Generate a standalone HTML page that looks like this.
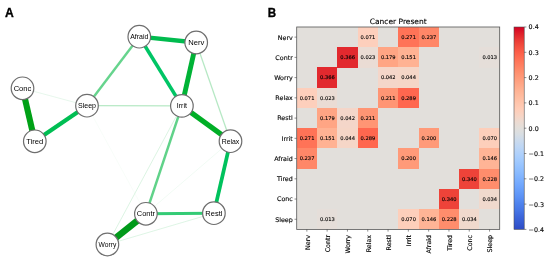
<!DOCTYPE html>
<html><head><meta charset="utf-8"><title>Figure</title>
<style>
html,body{margin:0;padding:0;background:#fff;}
body{width:550px;height:262px;overflow:hidden;}
svg{display:block;}
.dj{font-family:"DejaVu Sans","Liberation Sans",sans-serif;stroke:#000;stroke-width:0.12px;}
.lb{font-family:"Liberation Sans",Arial,sans-serif;}
</style></head><body>
<svg width="550" height="262" viewBox="0 0 550 262">
<rect x="0" y="0" width="550" height="262" fill="#ffffff"/>
<text class="lb" transform="translate(5.1,16.95) scale(0.9,1)" font-size="13.5" font-weight="bold" fill="#000" stroke="#000" stroke-width="0.35">A</text>
<text class="lb" transform="translate(267.8,16.95) scale(0.86,1)" font-size="13.5" font-weight="bold" fill="#000" stroke="#000" stroke-width="0.35">B</text>
<g stroke-linecap="butt">
<line x1="145.9" y1="213.8" x2="87.0" y2="105.7" stroke="#f0faf2" stroke-width="0.45"/>
<line x1="145.9" y1="213.8" x2="230.5" y2="141.2" stroke="#e5f7ea" stroke-width="0.55"/>
<line x1="22.5" y1="88.3" x2="87.0" y2="105.7" stroke="#daf3e1" stroke-width="0.65"/>
<line x1="107.4" y1="244.5" x2="213.9" y2="213.2" stroke="#d2f1db" stroke-width="0.73"/>
<line x1="107.4" y1="244.5" x2="181.9" y2="105.9" stroke="#d0f0d9" stroke-width="0.75"/>
<line x1="181.9" y1="105.9" x2="87.0" y2="105.7" stroke="#b7e9c5" stroke-width="1.25"/>
<line x1="196.2" y1="42.5" x2="230.5" y2="141.2" stroke="#b6e8c4" stroke-width="1.27"/>
<line x1="139.3" y1="36.7" x2="87.0" y2="105.7" stroke="#66d48d" stroke-width="2.42"/>
<line x1="145.9" y1="213.8" x2="181.9" y2="105.9" stroke="#60d289" stroke-width="2.50"/>
<line x1="145.9" y1="213.8" x2="213.9" y2="213.2" stroke="#34cb75" stroke-width="3.09"/>
<line x1="181.9" y1="105.9" x2="139.3" y2="36.7" stroke="#00c565" stroke-width="3.53"/>
<line x1="230.5" y1="141.2" x2="213.9" y2="213.2" stroke="#00c25d" stroke-width="3.76"/>
<line x1="34.8" y1="141.3" x2="87.0" y2="105.7" stroke="#00be53" stroke-width="4.11"/>
<line x1="196.2" y1="42.5" x2="139.3" y2="36.7" stroke="#00bb4e" stroke-width="4.30"/>
<line x1="196.2" y1="42.5" x2="181.9" y2="105.9" stroke="#00b336" stroke-width="4.89"/>
<line x1="230.5" y1="141.2" x2="181.9" y2="105.9" stroke="#00ae26" stroke-width="5.21"/>
<line x1="34.8" y1="141.3" x2="22.5" y2="88.3" stroke="#00a116" stroke-width="6.10"/>
<line x1="145.9" y1="213.8" x2="107.4" y2="244.5" stroke="#009a1a" stroke-width="6.60"/>
</g>
<circle cx="139.3" cy="36.7" r="11.3" fill="#fff" stroke="#6e6e6e" stroke-width="1.2"/>
<text class="lb" x="139.3" y="39.2" font-size="6.95" text-anchor="middle" fill="#000">Afraid</text>
<circle cx="196.2" cy="42.5" r="11.3" fill="#fff" stroke="#6e6e6e" stroke-width="1.2"/>
<text class="lb" x="196.2" y="45.2" font-size="7.60" text-anchor="middle" fill="#000">Nerv</text>
<circle cx="22.5" cy="88.3" r="11.3" fill="#fff" stroke="#6e6e6e" stroke-width="1.2"/>
<text class="lb" x="22.5" y="91.0" font-size="7.60" text-anchor="middle" fill="#000">Conc</text>
<circle cx="87.0" cy="105.7" r="11.3" fill="#fff" stroke="#6e6e6e" stroke-width="1.2"/>
<text class="lb" x="87.0" y="108.2" font-size="7.05" text-anchor="middle" fill="#000">Sleep</text>
<circle cx="181.9" cy="105.9" r="11.3" fill="#fff" stroke="#6e6e6e" stroke-width="1.2"/>
<text class="lb" x="181.9" y="108.4" font-size="7.00" text-anchor="middle" fill="#000">Irrit</text>
<circle cx="34.8" cy="141.3" r="11.3" fill="#fff" stroke="#6e6e6e" stroke-width="1.2"/>
<text class="lb" x="34.8" y="144.0" font-size="7.60" text-anchor="middle" fill="#000">Tired</text>
<circle cx="230.5" cy="141.2" r="11.3" fill="#fff" stroke="#6e6e6e" stroke-width="1.2"/>
<text class="lb" x="230.5" y="143.6" font-size="6.90" text-anchor="middle" fill="#000">Relax</text>
<circle cx="145.9" cy="213.8" r="11.3" fill="#fff" stroke="#6e6e6e" stroke-width="1.2"/>
<text class="lb" x="145.9" y="216.4" font-size="7.45" text-anchor="middle" fill="#000">Contr</text>
<circle cx="213.9" cy="213.2" r="11.3" fill="#fff" stroke="#6e6e6e" stroke-width="1.2"/>
<text class="lb" x="213.9" y="215.9" font-size="7.50" text-anchor="middle" fill="#000">Restl</text>
<circle cx="107.4" cy="244.5" r="11.3" fill="#fff" stroke="#6e6e6e" stroke-width="1.2"/>
<text class="lb" x="107.4" y="246.9" font-size="6.70" text-anchor="middle" fill="#000">Worry</text>
<g shape-rendering="crispEdges">
<rect x="296.70" y="27.00" width="203.00" height="202.40" fill="#e2dfdb"/>
<rect x="357.60" y="27.00" width="20.35" height="20.29" fill="#fdcfbc"/>
<rect x="398.20" y="27.00" width="20.35" height="20.29" fill="#ff7357"/>
<rect x="418.50" y="27.00" width="20.35" height="20.29" fill="#ff8768"/>
<rect x="337.30" y="47.24" width="20.35" height="20.29" fill="#e2292e"/>
<rect x="357.60" y="47.24" width="20.35" height="20.29" fill="#eadcd4"/>
<rect x="377.90" y="47.24" width="20.35" height="20.29" fill="#ffa584"/>
<rect x="398.20" y="47.24" width="20.35" height="20.29" fill="#ffb293"/>
<rect x="479.40" y="47.24" width="20.35" height="20.29" fill="#e5ded9"/>
<rect x="317.00" y="67.48" width="20.35" height="20.29" fill="#e2292e"/>
<rect x="377.90" y="67.48" width="20.35" height="20.29" fill="#f4d6c9"/>
<rect x="398.20" y="67.48" width="20.35" height="20.29" fill="#f5d6c7"/>
<rect x="296.70" y="87.72" width="20.35" height="20.29" fill="#fdcfbc"/>
<rect x="317.00" y="87.72" width="20.35" height="20.29" fill="#eadcd4"/>
<rect x="377.90" y="87.72" width="20.35" height="20.29" fill="#ff9574"/>
<rect x="398.20" y="87.72" width="20.35" height="20.29" fill="#ff674f"/>
<rect x="317.00" y="107.96" width="20.35" height="20.29" fill="#ffa584"/>
<rect x="337.30" y="107.96" width="20.35" height="20.29" fill="#f4d6c9"/>
<rect x="357.60" y="107.96" width="20.35" height="20.29" fill="#ff9574"/>
<rect x="296.70" y="128.20" width="20.35" height="20.29" fill="#ff7357"/>
<rect x="317.00" y="128.20" width="20.35" height="20.29" fill="#ffb293"/>
<rect x="337.30" y="128.20" width="20.35" height="20.29" fill="#f5d6c7"/>
<rect x="357.60" y="128.20" width="20.35" height="20.29" fill="#ff674f"/>
<rect x="418.50" y="128.20" width="20.35" height="20.29" fill="#ff9a79"/>
<rect x="479.40" y="128.20" width="20.35" height="20.29" fill="#fdcfbb"/>
<rect x="296.70" y="148.44" width="20.35" height="20.29" fill="#ff8768"/>
<rect x="398.20" y="148.44" width="20.35" height="20.29" fill="#ff9a79"/>
<rect x="479.40" y="148.44" width="20.35" height="20.29" fill="#ffb496"/>
<rect x="459.10" y="168.68" width="20.35" height="20.29" fill="#ee4339"/>
<rect x="479.40" y="168.68" width="20.35" height="20.29" fill="#ff8d6c"/>
<rect x="438.80" y="188.92" width="20.35" height="20.29" fill="#ee4339"/>
<rect x="479.40" y="188.92" width="20.35" height="20.29" fill="#f0d9cd"/>
<rect x="317.00" y="209.16" width="20.35" height="20.29" fill="#e5ded9"/>
<rect x="398.20" y="209.16" width="20.35" height="20.29" fill="#fdcfbb"/>
<rect x="418.50" y="209.16" width="20.35" height="20.29" fill="#ffb496"/>
<rect x="438.80" y="209.16" width="20.35" height="20.29" fill="#ff8d6c"/>
<rect x="459.10" y="209.16" width="20.35" height="20.29" fill="#f0d9cd"/>
</g>
<text class="dj" x="367.95" y="38.92" font-size="5.15" text-anchor="middle" fill="#000">0.071</text>
<text class="dj" x="408.55" y="38.92" font-size="5.15" text-anchor="middle" fill="#000">0.271</text>
<text class="dj" x="428.85" y="38.92" font-size="5.15" text-anchor="middle" fill="#000">0.237</text>
<text class="dj" x="347.65" y="59.16" font-size="5.15" text-anchor="middle" fill="#000">0.366</text>
<text class="dj" x="367.95" y="59.16" font-size="5.15" text-anchor="middle" fill="#000">0.023</text>
<text class="dj" x="388.25" y="59.16" font-size="5.15" text-anchor="middle" fill="#000">0.179</text>
<text class="dj" x="408.55" y="59.16" font-size="5.15" text-anchor="middle" fill="#000">0.151</text>
<text class="dj" x="489.75" y="59.16" font-size="5.15" text-anchor="middle" fill="#000">0.013</text>
<text class="dj" x="327.35" y="79.40" font-size="5.15" text-anchor="middle" fill="#000">0.366</text>
<text class="dj" x="388.25" y="79.40" font-size="5.15" text-anchor="middle" fill="#000">0.042</text>
<text class="dj" x="408.55" y="79.40" font-size="5.15" text-anchor="middle" fill="#000">0.044</text>
<text class="dj" x="307.05" y="99.64" font-size="5.15" text-anchor="middle" fill="#000">0.071</text>
<text class="dj" x="327.35" y="99.64" font-size="5.15" text-anchor="middle" fill="#000">0.023</text>
<text class="dj" x="388.25" y="99.64" font-size="5.15" text-anchor="middle" fill="#000">0.211</text>
<text class="dj" x="408.55" y="99.64" font-size="5.15" text-anchor="middle" fill="#000">0.289</text>
<text class="dj" x="327.35" y="119.88" font-size="5.15" text-anchor="middle" fill="#000">0.179</text>
<text class="dj" x="347.65" y="119.88" font-size="5.15" text-anchor="middle" fill="#000">0.042</text>
<text class="dj" x="367.95" y="119.88" font-size="5.15" text-anchor="middle" fill="#000">0.211</text>
<text class="dj" x="307.05" y="140.12" font-size="5.15" text-anchor="middle" fill="#000">0.271</text>
<text class="dj" x="327.35" y="140.12" font-size="5.15" text-anchor="middle" fill="#000">0.151</text>
<text class="dj" x="347.65" y="140.12" font-size="5.15" text-anchor="middle" fill="#000">0.044</text>
<text class="dj" x="367.95" y="140.12" font-size="5.15" text-anchor="middle" fill="#000">0.289</text>
<text class="dj" x="428.85" y="140.12" font-size="5.15" text-anchor="middle" fill="#000">0.200</text>
<text class="dj" x="489.75" y="140.12" font-size="5.15" text-anchor="middle" fill="#000">0.070</text>
<text class="dj" x="307.05" y="160.36" font-size="5.15" text-anchor="middle" fill="#000">0.237</text>
<text class="dj" x="408.55" y="160.36" font-size="5.15" text-anchor="middle" fill="#000">0.200</text>
<text class="dj" x="489.75" y="160.36" font-size="5.15" text-anchor="middle" fill="#000">0.146</text>
<text class="dj" x="469.45" y="180.60" font-size="5.15" text-anchor="middle" fill="#000">0.340</text>
<text class="dj" x="489.75" y="180.60" font-size="5.15" text-anchor="middle" fill="#000">0.228</text>
<text class="dj" x="449.15" y="200.84" font-size="5.15" text-anchor="middle" fill="#000">0.340</text>
<text class="dj" x="489.75" y="200.84" font-size="5.15" text-anchor="middle" fill="#000">0.034</text>
<text class="dj" x="327.35" y="221.08" font-size="5.15" text-anchor="middle" fill="#000">0.013</text>
<text class="dj" x="408.55" y="221.08" font-size="5.15" text-anchor="middle" fill="#000">0.070</text>
<text class="dj" x="428.85" y="221.08" font-size="5.15" text-anchor="middle" fill="#000">0.146</text>
<text class="dj" x="449.15" y="221.08" font-size="5.15" text-anchor="middle" fill="#000">0.228</text>
<text class="dj" x="469.45" y="221.08" font-size="5.15" text-anchor="middle" fill="#000">0.034</text>
<rect x="296.70" y="27.00" width="203.00" height="202.40" fill="none" stroke="#555" stroke-width="0.8"/>
<text class="dj" x="398.20" y="23.8" font-size="7.5" text-anchor="middle" fill="#000">Cancer Present</text>
<line x1="294.50" y1="37.12" x2="296.70" y2="37.12" stroke="#444" stroke-width="0.6"/>
<line x1="306.85" y1="229.40" x2="306.85" y2="231.60" stroke="#444" stroke-width="0.6"/>
<text class="dj" x="292.80" y="39.52" font-size="6.35" text-anchor="end" fill="#000">Nerv</text>
<text class="dj" transform="translate(309.65,234.90) rotate(-90)" font-size="6.35" text-anchor="end" fill="#000">Nerv</text>
<line x1="294.50" y1="57.36" x2="296.70" y2="57.36" stroke="#444" stroke-width="0.6"/>
<line x1="327.15" y1="229.40" x2="327.15" y2="231.60" stroke="#444" stroke-width="0.6"/>
<text class="dj" x="292.80" y="59.76" font-size="6.35" text-anchor="end" fill="#000">Contr</text>
<text class="dj" transform="translate(329.95,234.90) rotate(-90)" font-size="6.35" text-anchor="end" fill="#000">Contr</text>
<line x1="294.50" y1="77.60" x2="296.70" y2="77.60" stroke="#444" stroke-width="0.6"/>
<line x1="347.45" y1="229.40" x2="347.45" y2="231.60" stroke="#444" stroke-width="0.6"/>
<text class="dj" x="292.80" y="80.00" font-size="6.35" text-anchor="end" fill="#000">Worry</text>
<text class="dj" transform="translate(350.25,234.90) rotate(-90)" font-size="6.35" text-anchor="end" fill="#000">Worry</text>
<line x1="294.50" y1="97.84" x2="296.70" y2="97.84" stroke="#444" stroke-width="0.6"/>
<line x1="367.75" y1="229.40" x2="367.75" y2="231.60" stroke="#444" stroke-width="0.6"/>
<text class="dj" x="292.80" y="100.24" font-size="6.35" text-anchor="end" fill="#000">Relax</text>
<text class="dj" transform="translate(370.55,234.90) rotate(-90)" font-size="6.35" text-anchor="end" fill="#000">Relax</text>
<line x1="294.50" y1="118.08" x2="296.70" y2="118.08" stroke="#444" stroke-width="0.6"/>
<line x1="388.05" y1="229.40" x2="388.05" y2="231.60" stroke="#444" stroke-width="0.6"/>
<text class="dj" x="292.80" y="120.48" font-size="6.35" text-anchor="end" fill="#000">Restl</text>
<text class="dj" transform="translate(390.85,234.90) rotate(-90)" font-size="6.35" text-anchor="end" fill="#000">Restl</text>
<line x1="294.50" y1="138.32" x2="296.70" y2="138.32" stroke="#444" stroke-width="0.6"/>
<line x1="408.35" y1="229.40" x2="408.35" y2="231.60" stroke="#444" stroke-width="0.6"/>
<text class="dj" x="292.80" y="140.72" font-size="6.35" text-anchor="end" fill="#000">Irrit</text>
<text class="dj" transform="translate(411.15,234.90) rotate(-90)" font-size="6.35" text-anchor="end" fill="#000">Irrit</text>
<line x1="294.50" y1="158.56" x2="296.70" y2="158.56" stroke="#444" stroke-width="0.6"/>
<line x1="428.65" y1="229.40" x2="428.65" y2="231.60" stroke="#444" stroke-width="0.6"/>
<text class="dj" x="292.80" y="160.96" font-size="6.35" text-anchor="end" fill="#000">Afraid</text>
<text class="dj" transform="translate(431.45,234.90) rotate(-90)" font-size="6.35" text-anchor="end" fill="#000">Afraid</text>
<line x1="294.50" y1="178.80" x2="296.70" y2="178.80" stroke="#444" stroke-width="0.6"/>
<line x1="448.95" y1="229.40" x2="448.95" y2="231.60" stroke="#444" stroke-width="0.6"/>
<text class="dj" x="292.80" y="181.20" font-size="6.35" text-anchor="end" fill="#000">Tired</text>
<text class="dj" transform="translate(451.75,234.90) rotate(-90)" font-size="6.35" text-anchor="end" fill="#000">Tired</text>
<line x1="294.50" y1="199.04" x2="296.70" y2="199.04" stroke="#444" stroke-width="0.6"/>
<line x1="469.25" y1="229.40" x2="469.25" y2="231.60" stroke="#444" stroke-width="0.6"/>
<text class="dj" x="292.80" y="201.44" font-size="6.35" text-anchor="end" fill="#000">Conc</text>
<text class="dj" transform="translate(472.05,234.90) rotate(-90)" font-size="6.35" text-anchor="end" fill="#000">Conc</text>
<line x1="294.50" y1="219.28" x2="296.70" y2="219.28" stroke="#444" stroke-width="0.6"/>
<line x1="489.55" y1="229.40" x2="489.55" y2="231.60" stroke="#444" stroke-width="0.6"/>
<text class="dj" x="292.80" y="221.68" font-size="6.35" text-anchor="end" fill="#000">Sleep</text>
<text class="dj" transform="translate(492.35,234.90) rotate(-90)" font-size="6.35" text-anchor="end" fill="#000">Sleep</text>
<defs><linearGradient id="cb" x1="0" y1="1" x2="0" y2="0">
<stop offset="0.0000" stop-color="#2e4bc5"/>
<stop offset="0.0312" stop-color="#355ad1"/>
<stop offset="0.0625" stop-color="#3c66db"/>
<stop offset="0.0938" stop-color="#4676e6"/>
<stop offset="0.1250" stop-color="#4e82ed"/>
<stop offset="0.1562" stop-color="#5a90f5"/>
<stop offset="0.1875" stop-color="#659cfa"/>
<stop offset="0.2188" stop-color="#71a7fe"/>
<stop offset="0.2500" stop-color="#7db1ff"/>
<stop offset="0.2812" stop-color="#8abbff"/>
<stop offset="0.3125" stop-color="#96c3ff"/>
<stop offset="0.3438" stop-color="#a3cbfe"/>
<stop offset="0.3750" stop-color="#b0d1fb"/>
<stop offset="0.4062" stop-color="#bdd6f5"/>
<stop offset="0.4375" stop-color="#cadaed"/>
<stop offset="0.4688" stop-color="#d8dee3"/>
<stop offset="0.5000" stop-color="#e2dfdb"/>
<stop offset="0.5312" stop-color="#ecdbd2"/>
<stop offset="0.5625" stop-color="#f7d4c4"/>
<stop offset="0.5938" stop-color="#ffcdb8"/>
<stop offset="0.6250" stop-color="#ffc5ac"/>
<stop offset="0.6562" stop-color="#ffbc9f"/>
<stop offset="0.6875" stop-color="#ffb293"/>
<stop offset="0.7188" stop-color="#ffa686"/>
<stop offset="0.7500" stop-color="#ff9a79"/>
<stop offset="0.7812" stop-color="#ff8d6c"/>
<stop offset="0.8125" stop-color="#ff7e60"/>
<stop offset="0.8438" stop-color="#ff6f54"/>
<stop offset="0.8750" stop-color="#fc5e49"/>
<stop offset="0.9062" stop-color="#f34d3e"/>
<stop offset="0.9375" stop-color="#e93834"/>
<stop offset="0.9688" stop-color="#de1e2a"/>
<stop offset="1.0000" stop-color="#d30022"/>
</linearGradient></defs>
<rect x="514.00" y="27.00" width="10.20" height="202.40" fill="url(#cb)" stroke="#4a4a4a" stroke-width="0.55"/>
<line x1="524.20" y1="27.00" x2="526.40" y2="27.00" stroke="#444" stroke-width="0.6"/>
<text class="dj" x="528.60" y="29.40" font-size="6.35" fill="#000">0.4</text>
<line x1="524.20" y1="52.30" x2="526.40" y2="52.30" stroke="#444" stroke-width="0.6"/>
<text class="dj" x="528.60" y="54.70" font-size="6.35" fill="#000">0.3</text>
<line x1="524.20" y1="77.60" x2="526.40" y2="77.60" stroke="#444" stroke-width="0.6"/>
<text class="dj" x="528.60" y="80.00" font-size="6.35" fill="#000">0.2</text>
<line x1="524.20" y1="102.90" x2="526.40" y2="102.90" stroke="#444" stroke-width="0.6"/>
<text class="dj" x="528.60" y="105.30" font-size="6.35" fill="#000">0.1</text>
<line x1="524.20" y1="128.20" x2="526.40" y2="128.20" stroke="#444" stroke-width="0.6"/>
<text class="dj" x="528.60" y="130.60" font-size="6.35" fill="#000">0.0</text>
<line x1="524.20" y1="153.50" x2="526.40" y2="153.50" stroke="#444" stroke-width="0.6"/>
<text class="dj" x="528.60" y="155.90" font-size="6.35" fill="#000">−0.1</text>
<line x1="524.20" y1="178.80" x2="526.40" y2="178.80" stroke="#444" stroke-width="0.6"/>
<text class="dj" x="528.60" y="181.20" font-size="6.35" fill="#000">−0.2</text>
<line x1="524.20" y1="204.10" x2="526.40" y2="204.10" stroke="#444" stroke-width="0.6"/>
<text class="dj" x="528.60" y="206.50" font-size="6.35" fill="#000">−0.3</text>
<line x1="524.20" y1="229.40" x2="526.40" y2="229.40" stroke="#444" stroke-width="0.6"/>
<text class="dj" x="528.60" y="231.80" font-size="6.35" fill="#000">−0.4</text>
</svg></body></html>
